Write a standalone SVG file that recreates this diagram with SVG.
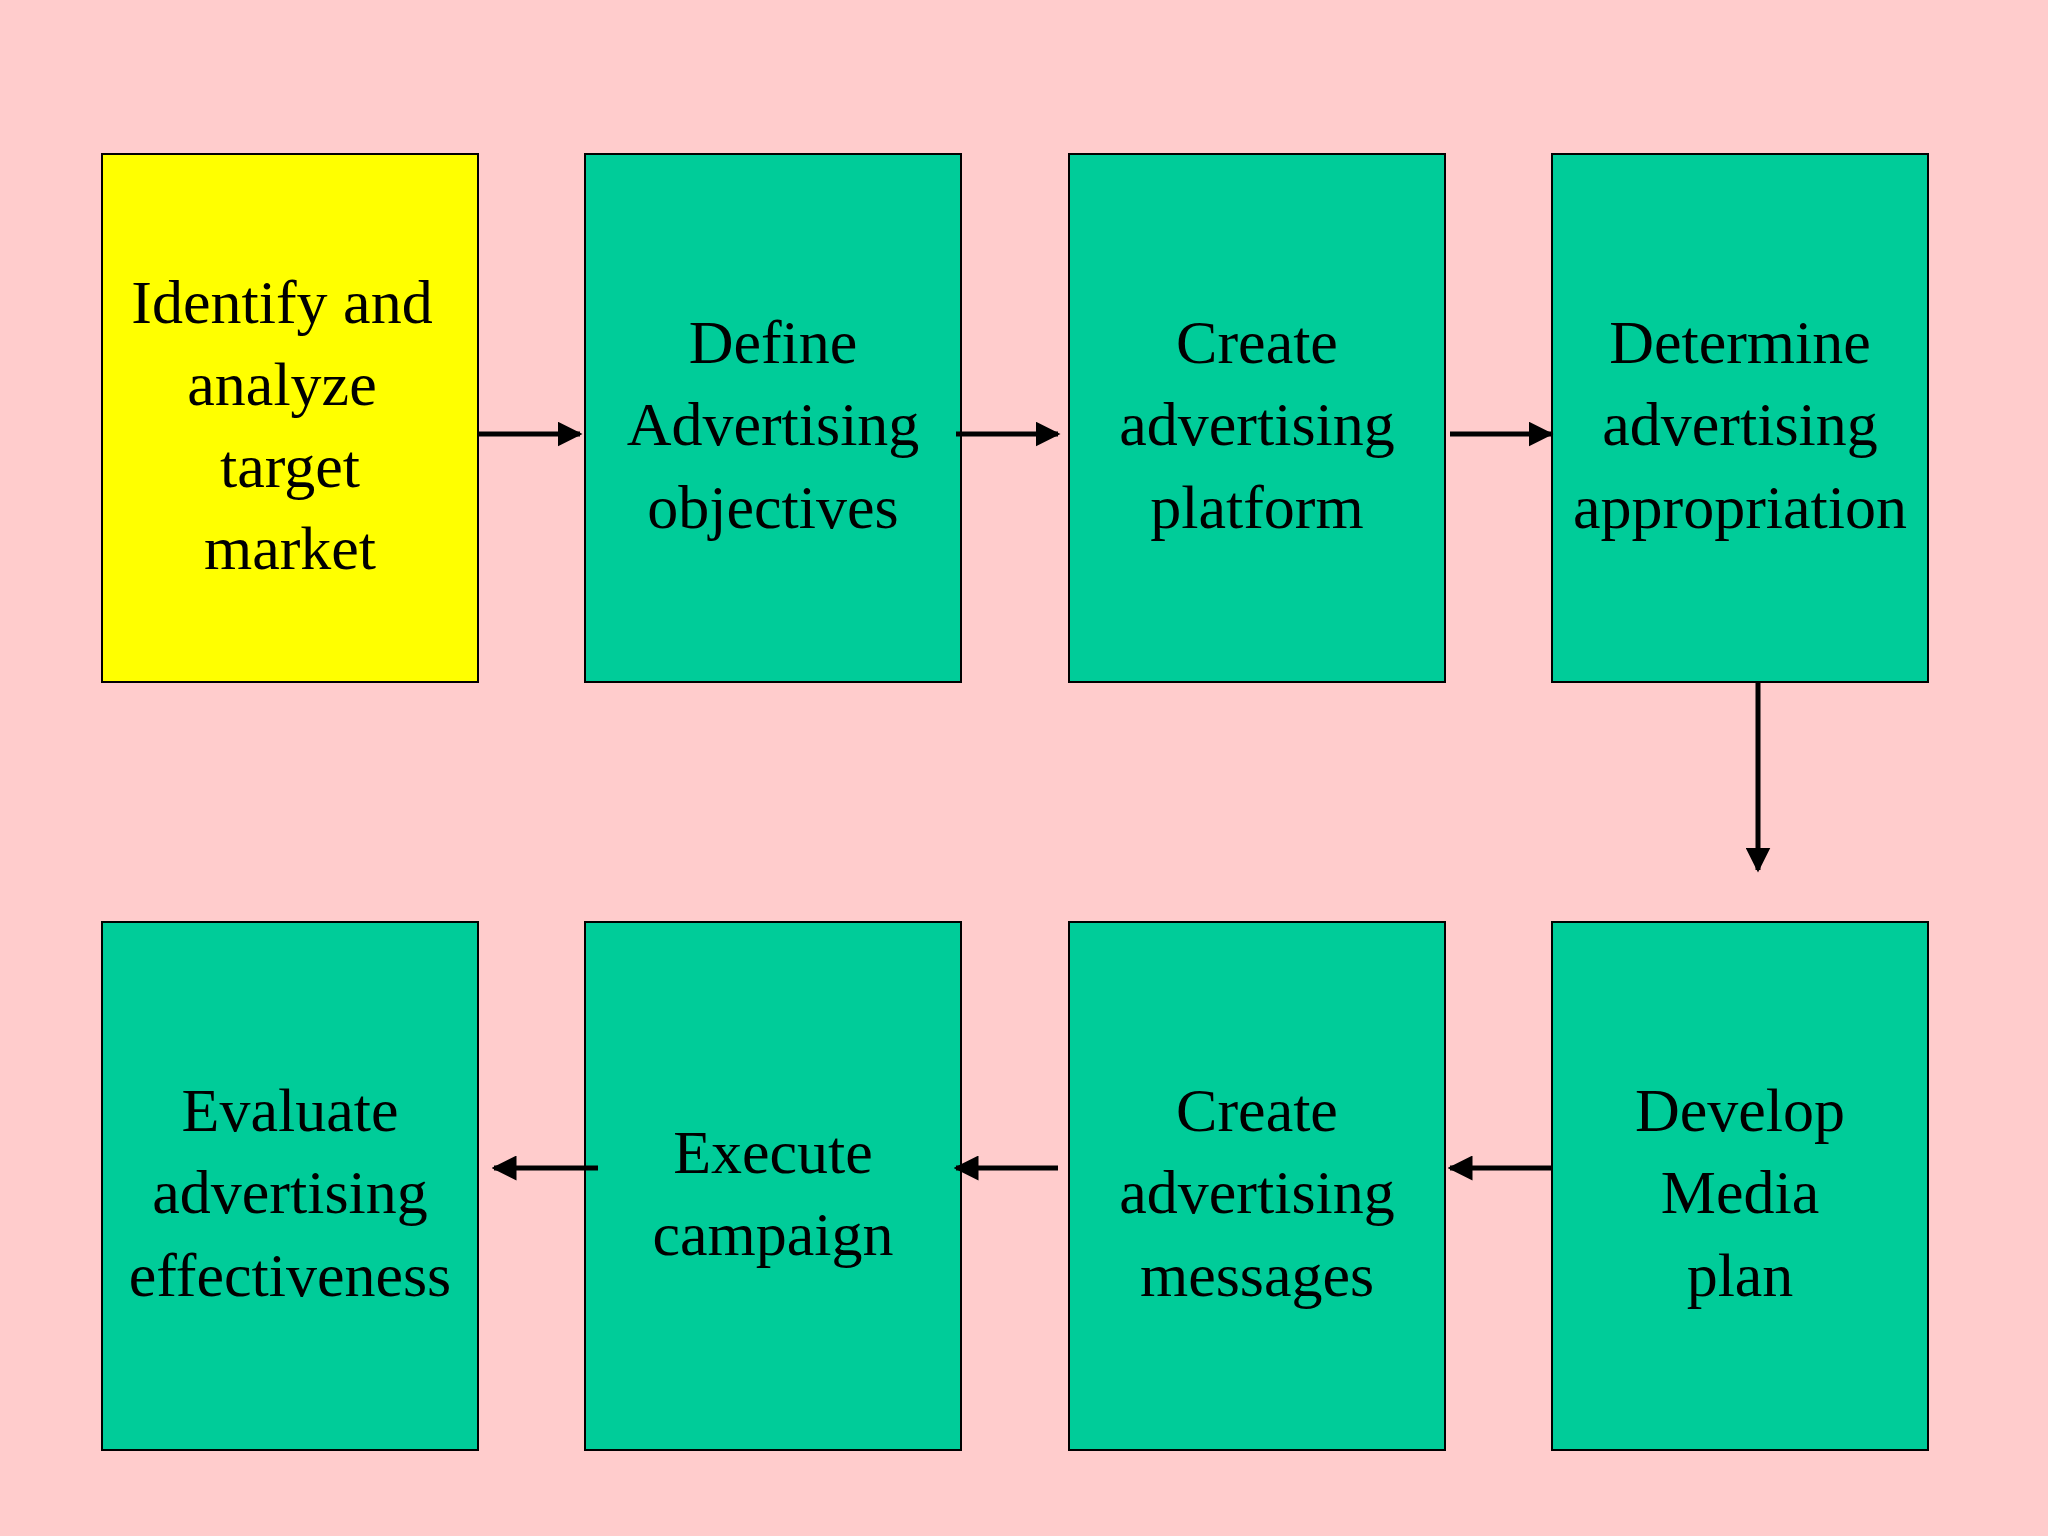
<svg xmlns="http://www.w3.org/2000/svg" width="2048" height="1536" viewBox="0 0 2048 1536">
<style>
.b{stroke:#000;stroke-width:2}
.g{fill:#00cc99}
.y{fill:#ffff00}
text{font-family:"Liberation Serif","Times New Roman",serif;font-size:62px;fill:#000;text-anchor:middle}
.c line{stroke:#000;stroke-width:5;marker-end:url(#a)}
</style>
<defs><marker id="a" viewBox="0 0 10 10" refX="9" refY="5" markerWidth="5" markerHeight="5" orient="auto" markerUnits="strokeWidth"><path d="M0,0L10,5L0,10z" fill="#000"/></marker></defs>
<rect width="2048" height="1536" fill="#ffcccc"/>
<g id="n1"><rect class="b y" x="102" y="154" width="376" height="528"/><text x="282" y="323">Identify and</text><text x="282" y="405">analyze</text><text x="290" y="487">target</text><text x="290" y="569">market</text></g>
<g id="n2"><rect class="b g" x="585" y="154" width="376" height="528"/><text x="773" y="363">Define</text><text x="773" y="445">Advertising</text><text x="773" y="528">objectives</text></g>
<g id="n3"><rect class="b g" x="1069" y="154" width="376" height="528"/><text x="1257" y="363">Create</text><text x="1257" y="445">advertising</text><text x="1257" y="528">platform</text></g>
<g id="n4"><rect class="b g" x="1552" y="154" width="376" height="528"/><text x="1740" y="363">Determine</text><text x="1740" y="445">advertising</text><text x="1740" y="528">appropriation</text></g>
<g id="n5"><rect class="b g" x="1552" y="922" width="376" height="528"/><text x="1740" y="1131">Develop</text><text x="1740" y="1213">Media</text><text x="1740" y="1296">plan</text></g>
<g id="n6"><rect class="b g" x="1069" y="922" width="376" height="528"/><text x="1257" y="1131">Create</text><text x="1257" y="1213">advertising</text><text x="1257" y="1296">messages</text></g>
<g id="n7"><rect class="b g" x="585" y="922" width="376" height="528"/><text x="773" y="1173">Execute</text><text x="773" y="1255">campaign</text></g>
<g id="n8"><rect class="b g" x="102" y="922" width="376" height="528"/><text x="290" y="1131">Evaluate</text><text x="290" y="1213">advertising</text><text x="290" y="1296">effectiveness</text></g>
<g class="c">
<line x1="478" y1="434" x2="580" y2="434"/>
<line x1="956" y1="434" x2="1058" y2="434"/>
<line x1="1450" y1="434" x2="1551" y2="434"/>
<line x1="1758" y1="682" x2="1758" y2="870"/>
<line x1="1552" y1="1168" x2="1450" y2="1168"/>
<line x1="1058" y1="1168" x2="956" y2="1168"/>
<line x1="598" y1="1168" x2="494" y2="1168"/>
</g>
</svg>
